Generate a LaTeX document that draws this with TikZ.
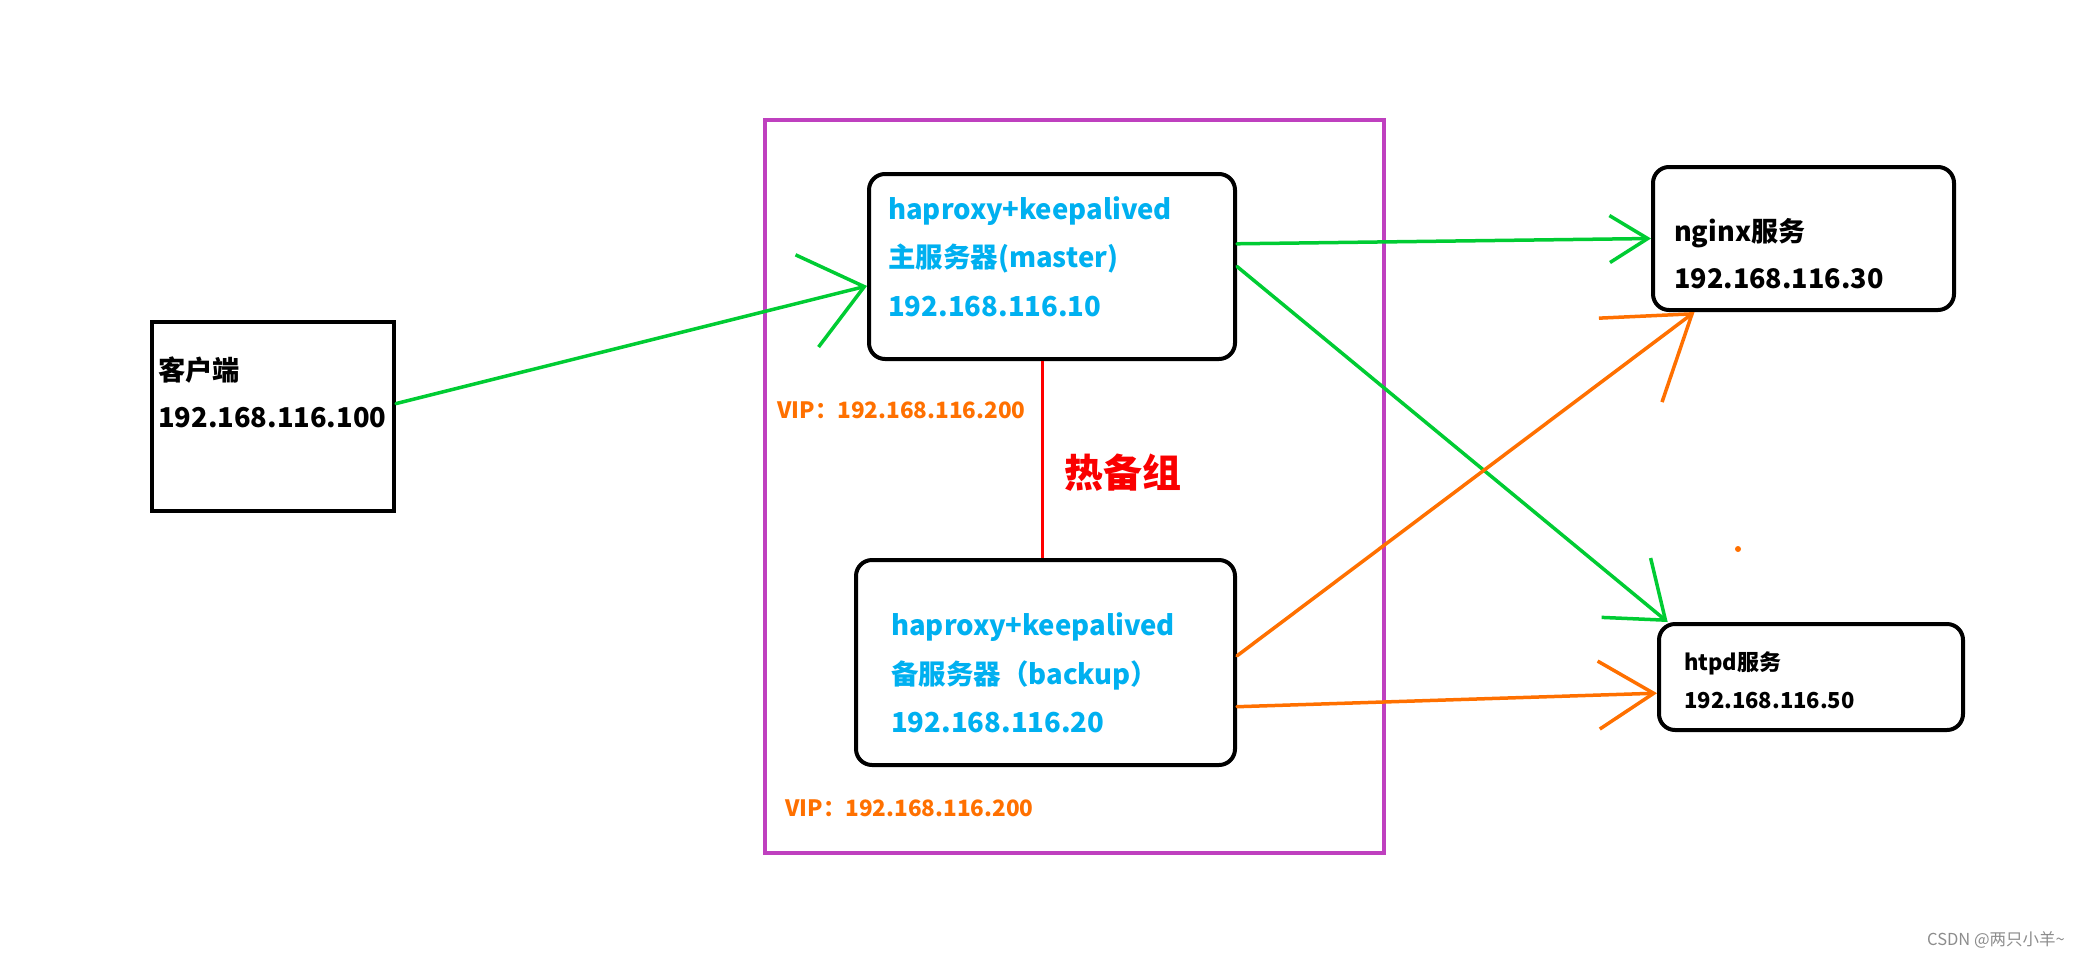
\documentclass[tikz,border=0pt]{standalone}
\usepackage{fontspec}
\setmainfont{Noto Sans CJK SC}
\usetikzlibrary{arrows.meta, positioning}
\definecolor{netblue}{RGB}{0,176,240}
\definecolor{netgreen}{RGB}{0,204,51}
\definecolor{netorange}{RGB}{255,112,0}
\definecolor{grouppurple}{RGB}{191,64,191}
\definecolor{hotred}{RGB}{250,0,0}
\tikzset{
  hostbox/.style={rectangle, draw=black, line width=4pt, fill=white},
  serverbox/.style={rectangle, rounded corners=16pt, draw=black, line width=4pt, fill=white},
  groupbox/.style={rectangle, draw=grouppurple, line width=3.5pt},
  bluetext/.style={anchor=west, align=left, inner sep=0pt, text=netblue,
                   font=\bfseries\fontsize{27.5}{48.5}\selectfont},
  blacktext/.style={anchor=west, align=left, inner sep=0pt, text=black,
                    font=\bfseries\fontsize{27.3}{47}\selectfont},
  viplabel/.style={anchor=west, inner sep=0pt, text=netorange,
                   font=\bfseries\fontsize{22.5}{27}\selectfont},
  greenarrow/.style={draw=netgreen, line width=3.5pt, line cap=round},
  orangearrow/.style={draw=netorange, line width=3.5pt, line cap=round},
  hotline/.style={draw=red, line width=3pt},
}
\begin{document}
\begin{tikzpicture}[x=1pt, y=-1pt]
  \useasboundingbox (0,0) rectangle (2099,959);

  % Hot standby group frame
  \node[groupbox, minimum width=619pt, minimum height=733pt] (group) at (1074.5,486.5) {};

  % Boxes
  \node[hostbox, minimum width=242pt, minimum height=189pt] (client) at (273,416.5) {};
  \node[serverbox, minimum width=366pt, minimum height=185pt] (master) at (1052,266.5) {};
  \node[serverbox, minimum width=379pt, minimum height=205pt] (backup) at (1045.5,662.5) {};
  \node[serverbox, minimum width=301pt, minimum height=143pt] (nginx) at (1803.5,238.5) {};
  \node[serverbox, minimum width=304pt, minimum height=106pt] (htpd) at (1811,677) {};

  % Box texts
  \node[blacktext] (clienttxt) at (158,392.5) {客户端\\192.168.116.100};
  \node[bluetext] (mastertxt) at (888,256.5) {haproxy+keepalived\\主服务器(master)\\192.168.116.10};
  \node[bluetext] (backuptxt) at (891,673) {haproxy+keepalived\\备服务器（backup）\\192.168.116.20};
  \node[blacktext, font=\bfseries\fontsize{27}{47}\selectfont] (nginxtxt) at (1674,253.5) {nginx服务\\192.168.116.30};
  \node[blacktext, font=\bfseries\fontsize{22}{38}\selectfont] (htpdtxt) at (1684,680) {htpd服务\\192.168.116.50};

  % Labels
  \node[viplabel] (vipmaster) at (777,410) {VIP：192.168.116.200};
  \node[viplabel] (vipbackup) at (785,808) {VIP：192.168.116.200};
  \node[anchor=west, inner sep=0pt, text=hotred, font=\bfseries\fontsize{39}{44}\selectfont] (hotgroup) at (1064,473) {热备组};

  % Heartbeat link
  \draw[hotline] ([xshift=-10pt]master.south) -- ([xshift=-10pt]master.south |- backup.north);

  % Master traffic
  \draw[greenarrow, -{Straight Barb[length=59pt, width=95pt]}] (client.6) -- (master.186);
  \draw[greenarrow, -{Straight Barb[length=38pt, width=47pt]}] (master.7) -- (nginx.west);
  \draw[greenarrow, -{Straight Barb[length=51pt, width=77pt]}] (master.east) -- (htpd.159);

  % Backup traffic
  \draw[orangearrow, -{Straight Barb[length=77pt, width=105pt]}] (backup.2) -- (nginx.214);
  \draw[orangearrow, -{Straight Barb[length=55pt, width=68pt]}] (backup.-13) -- (htpd.186);
  \fill[netorange] (1738,549) circle (3);

  \node[anchor=west, inner sep=0pt, text=black!45, font=\fontsize{16.5}{20}\selectfont] (mark) at (1927,940) {CSDN @两只小羊\textasciitilde};
\end{tikzpicture}
\end{document}
